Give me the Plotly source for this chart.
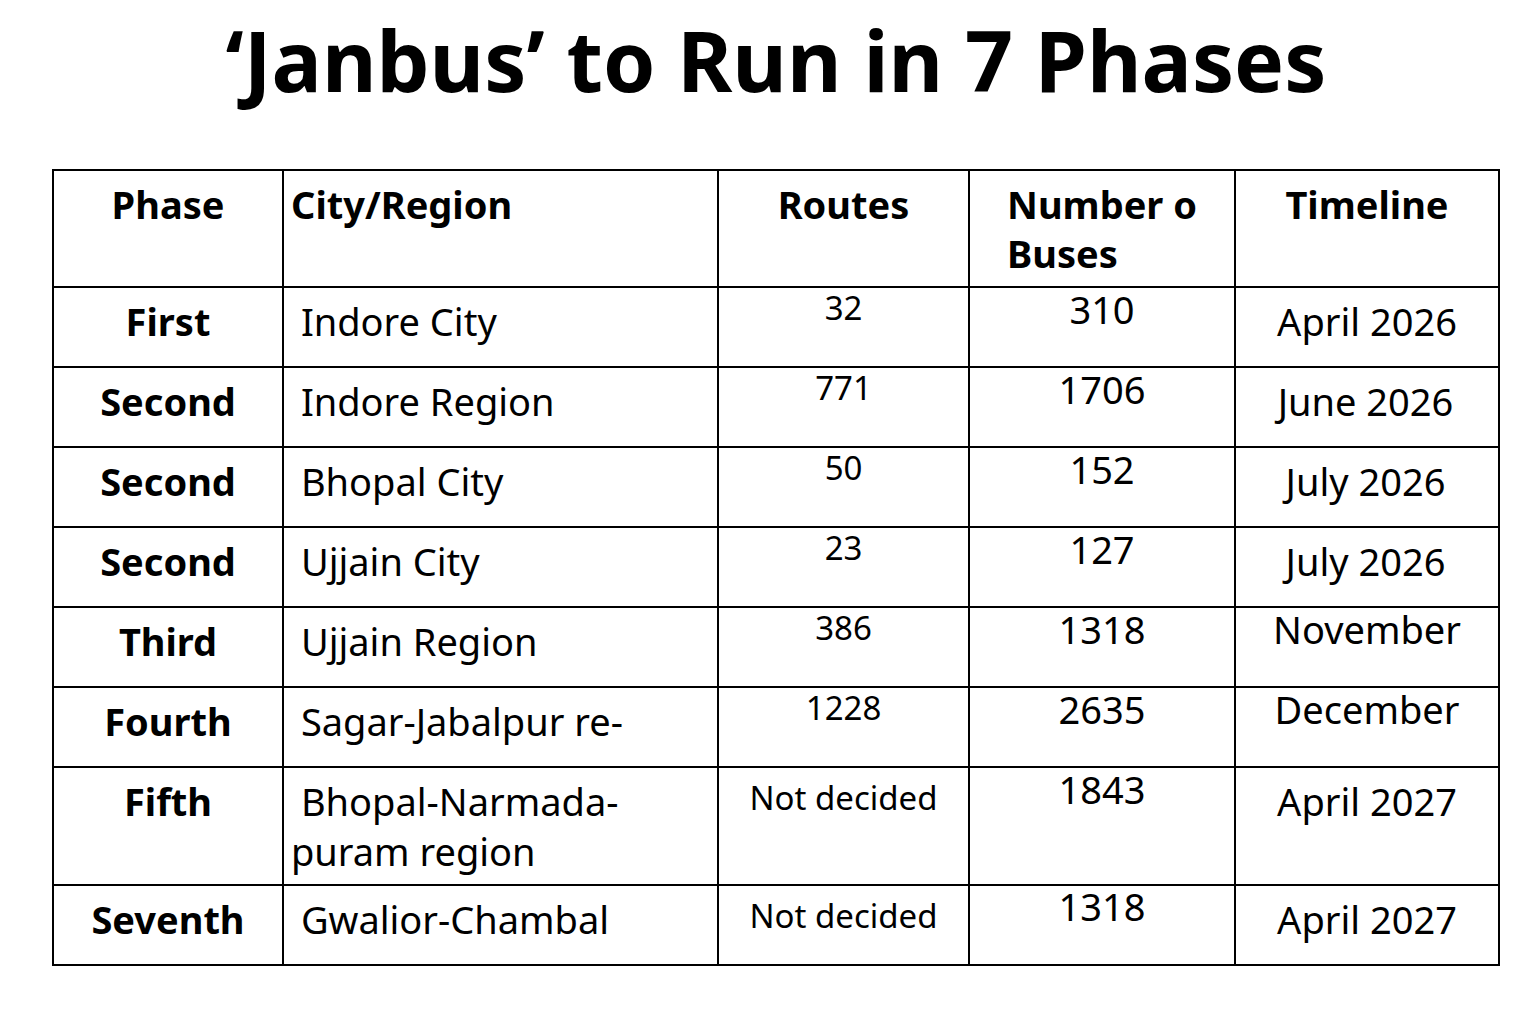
import plotly.graph_objects as go

headers = ["Phase", "City/Region", "Routes", "Number o<br>Buses", "Timeline"]
phases = ["First", "Second", "Second", "Second", "Third", "Fourth", "Fifth", "Seventh"]
cities = ["Indore City", "Indore Region", "Bhopal City", "Ujjain City", "Ujjain Region",
          "Sagar-Jabalpur re-", "Bhopal-Narmada-<br>puram region", "Gwalior-Chambal"]
routes = ["32", "771", "50", "23", "386", "1228", "Not decided", "Not decided"]
buses = ["310", "1706", "152", "127", "1318", "2635", "1843", "1318"]
timeline = ["April 2026", "June 2026", "July 2026", "July 2026", "November",
            "December", "April 2027", "April 2027"]

nb = lambda s: s.replace(" ", "&nbsp;")

fig = go.Figure(go.Table(
    domain=dict(x=[45 / 1536, 1491 / 1536], y=[0, 1 - 162 / 1024]),
    columnwidth=[230, 435, 251, 266, 264],
    header=dict(
        values=["<b>%s</b>" % h for h in headers],
        align=["center", "left", "center", "center", "center"],
        height=92,
        line=dict(color="black", width=2),
        fill_color="white",
        font=dict(family="Noto Sans", size=38, color="black"),
    ),
    cells=dict(
        values=[["<b>%s</b>" % p for p in phases],
                ["&nbsp;" + c for c in cities],
                [nb(r) for r in routes], buses, [nb(t) for t in timeline]],
        align=["center", "left", "center", "center", "center"],
        height=80,
        line=dict(color="black", width=2),
        fill_color="white",
        font=dict(family="Noto Sans", size=[38, 38, 33, 38, 38], color="black"),
    ),
))

fig.update_layout(
    title=dict(text="<b>‘Janbus’ to Run in 7 Phases</b>", x=0.5, y=0.975, yanchor="top",
               font=dict(family="Noto Sans", size=84, color="black")),
    width=1536, height=1024,
    margin=dict(l=0, r=0, t=0, b=0),
    paper_bgcolor="white",
)

fig.write_html("out.html")
